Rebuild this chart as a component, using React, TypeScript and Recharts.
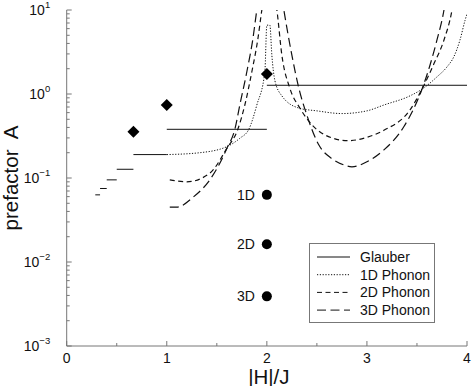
import React from 'react'
import { ComposedChart, Line, Scatter, XAxis, YAxis, Legend } from 'recharts'

// axes
const xTicks = [0, 0.5, 1, 1.5, 2, 2.5, 3, 3.5, 4]
const xLabels = [0, 1, 2, 3, 4]
const yMajor = [0.001, 0.01, 0.1, 1, 10]
const yExponent = ['\u22123', '\u22122', '\u22121', '0', '1']
const yMinorFactors = [2, 3, 4, 5, 6, 7, 8, 9]

// Glauber steps
const glauberFrom = [2 / 7, 1 / 3, 2 / 5, 1 / 2, 2 / 3, 1, 2]
const glauberTo = [1 / 3, 2 / 5, 1 / 2, 2 / 3, 1, 2, 4]
const glauberA = [0.063, 0.075, 0.095, 0.127, 0.19, 0.38, 1.27]

// 1D phonon (dotted)
const oneDX = [1.0, 1.33, 1.6, 1.73, 1.82, 1.9, 1.98, 2.0, 2.03, 2.05, 2.08, 2.15, 2.32, 2.5, 2.75, 3.0, 3.17, 3.43, 3.55, 3.7, 3.8, 3.87, 3.93, 3.98, 4.0]
const oneDA = [0.19, 0.2, 0.236, 0.297, 0.38, 0.74, 1.84, 6.6, 6.6, 2.9, 1.45, 0.95, 0.68, 0.63, 0.585, 0.63, 0.74, 0.95, 1.14, 1.6, 2.1, 2.8, 4.4, 7.5, 9]

// 2D phonon (short dash)
const twoDLeftX = [1.03, 1.2, 1.43, 1.6, 1.71, 1.78, 1.85, 1.91, 1.95, 1.97]
const twoDLeftA = [0.095, 0.09, 0.114, 0.225, 0.38, 0.74, 1.84, 4.5, 10, 14]
const twoDRightX = [2.08, 2.1, 2.15, 2.23, 2.33, 2.45, 2.65, 2.81, 3.0, 3.17, 3.43, 3.55, 3.67, 3.77, 3.85, 3.87]
const twoDRightA = [14, 10, 2.9, 1.17, 0.68, 0.43, 0.3, 0.278, 0.305, 0.37, 0.645, 1.14, 2.3, 4.4, 10, 14]

// 3D phonon (long dash)
const threeDLeftX = [1.03, 1.1, 1.27, 1.43, 1.53, 1.6, 1.68, 1.73, 1.8, 1.86, 1.9, 1.92]
const threeDLeftA = [0.045, 0.045, 0.06, 0.095, 0.15, 0.225, 0.38, 0.74, 1.84, 4.5, 10, 14]
const threeDRightX = [2.15, 2.17, 2.25, 2.32, 2.4, 2.52, 2.65, 2.77, 2.85, 3.0, 3.17, 3.37, 3.55, 3.63, 3.7, 3.77, 3.79]
const threeDRightA = [14, 10, 2.9, 1.17, 0.56, 0.247, 0.17, 0.143, 0.136, 0.156, 0.216, 0.41, 1.14, 2.2, 4.4, 10, 14]

// simulation points
const diamondX = [2 / 3, 1, 2]
const diamondA = [0.356, 0.74, 1.73]
const dimLabels = ['1D', '2D', '3D']
const dimX = [2, 2, 2]
const dimA = [0.063, 0.0163, 0.0039]

const legendNames = ['Glauber', '1D Phonon', '2D Phonon', '3D Phonon']

const FONT = '"Liberation Sans", Arial, Helvetica, sans-serif'
const INK = '#111'
const AXIS = '#777'
const dashes = ['', '1.2 1.6', '5 3.5', '9 4.5']

const yMinor = yMajor.slice(0, -1).flatMap((m) => yMinorFactors.map((f) => f * m))
const yTicks = [...yMajor, ...yMinor].sort((a, b) => a - b)

const toPoints = (xs: number[], as: number[]) => xs.map((x, i) => ({ x, a: as[i] }))

const glauberData = glauberFrom.flatMap((x0, i) => [
  { x: x0, a: glauberA[i] },
  { x: glauberTo[i], a: glauberA[i] },
  { x: glauberTo[i], a: null }
])

const oneD = toPoints(oneDX, oneDA)
const twoDLeft = toPoints(twoDLeftX, twoDLeftA)
const twoDRight = toPoints(twoDRightX, twoDRightA)
const threeDLeft = toPoints(threeDLeftX, threeDLeftA)
const threeDRight = toPoints(threeDRightX, threeDRightA)
const diamonds = toPoints(diamondX, diamondA)
const dims = dimX.map((x, i) => ({ x, a: dimA[i], label: dimLabels[i] }))

const isMajor = (v: number) => yMajor.some((m) => Math.abs(m - v) / m < 1e-6)

const LeftTick = ({ x, y, payload }: any) => {
  const idx = yMajor.findIndex((m) => Math.abs(m - payload.value) / m < 1e-6)
  const major = idx >= 0
  return (
    <g>
      <line x1={x} x2={x + (major ? 5 : 3)} y1={y} y2={y} stroke={AXIS} />
      {major && (
        <text x={x - 16.5} y={y + 5} textAnchor="end" fontFamily={FONT} fontSize={14} fill={INK}>
          <tspan>10</tspan>
          <tspan dy={-7} fontSize={9.5}>{yExponent[idx]}</tspan>
        </text>
      )}
    </g>
  )
}

const RightTick = ({ x, y, payload }: any) => (
  <line x1={x} x2={x - (isMajor(payload.value) ? 5 : 3)} y1={y} y2={y} stroke={AXIS} />
)

const BottomTick = ({ x, y, payload }: any) => {
  const major = xLabels.includes(payload.value)
  return (
    <g>
      <line x1={x} x2={x} y1={y} y2={y - (major ? 5 : 3)} stroke={AXIS} />
      {major && (
        <text x={x} y={y + 16.5} textAnchor="middle" fontFamily={FONT} fontSize={14} fill={INK}>
          {payload.value}
        </text>
      )}
    </g>
  )
}

const TopTick = ({ x, y }: any) => <line x1={x} x2={x} y1={y} y2={y + 3} stroke={AXIS} />

const YTitle = ({ viewBox }: any) => {
  const cx = viewBox.x + 11.5
  const cy = viewBox.y + viewBox.height / 2
  return (
    <text
      x={cx}
      y={cy}
      transform={`rotate(-90 ${cx} ${cy})`}
      textAnchor="middle"
      fontFamily={FONT}
      fontSize={20.5}
      fill={INK}
      style={{ whiteSpace: 'pre' }}
    >
      {'prefactor  A'}
    </text>
  )
}

const XTitle = ({ viewBox }: any) => (
  <text
    x={viewBox.x + viewBox.width / 2 + 2}
    y={viewBox.y + 37.5}
    textAnchor="middle"
    fontFamily={FONT}
    fontSize={20.5}
    fill={INK}
  >
    |H|/J
  </text>
)

const Diamond = ({ cx, cy }: any) => (
  <polygon points={`${cx},${cy - 6} ${cx + 6},${cy} ${cx},${cy + 6} ${cx - 6},${cy}`} fill="#000" />
)

const DimDot = ({ cx, cy, payload }: any) => (
  <g>
    <circle cx={cx} cy={cy} r={5} fill="#000" />
    <text x={cx - 12} y={cy + 5} textAnchor="end" fontFamily={FONT} fontSize={14} fill={INK}>
      {payload.label}
    </text>
  </g>
)

const LegendBox = () => (
  <div style={{ width: 126, height: 80, border: `1px solid ${AXIS}`, background: '#fff', boxSizing: 'border-box' }}>
    <svg width={124} height={78}>
      {legendNames.map((name, i) => {
        const cy = 13 + i * 17.7
        return (
          <g key={name}>
            <line x1={7} x2={40} y1={cy} y2={cy} stroke={INK} strokeWidth={1} strokeDasharray={dashes[i]} />
            <text x={50} y={cy + 5} fontFamily={FONT} fontSize={14} fill={INK}>
              {name}
            </text>
          </g>
        )
      })}
    </svg>
  </div>
)

export default function App() {
  return (
    <div style={{ position: 'absolute', left: 0, top: 0, background: '#fff' }}>
      <ComposedChart width={474} height={386} margin={{ top: 10, right: 7, bottom: 0, left: 6.7 }}>
        <XAxis
          dataKey="x"
          type="number"
          domain={[0, 4]}
          allowDataOverflow
          ticks={xTicks}
          interval={0}
          height={40}
          tickSize={0}
          tickMargin={0}
          tickLine={false}
          axisLine={{ stroke: AXIS }}
          tick={<BottomTick />}
          label={{ content: <XTitle /> }}
        />
        <XAxis
          xAxisId="top"
          orientation="top"
          dataKey="x"
          type="number"
          domain={[0, 4]}
          allowDataOverflow
          ticks={xTicks}
          interval={0}
          height={0}
          tickSize={0}
          tickMargin={0}
          tickLine={false}
          axisLine={{ stroke: AXIS }}
          tick={<TopTick />}
        />
        <YAxis
          type="number"
          scale="log"
          domain={[0.001, 10]}
          allowDataOverflow
          ticks={yTicks}
          interval={0}
          width={60}
          tickSize={0}
          tickMargin={0}
          tickLine={false}
          axisLine={{ stroke: AXIS }}
          tick={<LeftTick />}
          label={{ content: <YTitle /> }}
        />
        <YAxis
          yAxisId="right"
          orientation="right"
          type="number"
          scale="log"
          domain={[0.001, 10]}
          allowDataOverflow
          ticks={yTicks}
          interval={0}
          width={0}
          tickSize={0}
          tickMargin={0}
          tickLine={false}
          axisLine={{ stroke: AXIS }}
          tick={<RightTick />}
        />
        <Legend
          content={<LegendBox />}
          layout="vertical"
          align="center"
          verticalAlign="middle"
          width={126}
          height={80}
          wrapperStyle={{ left: 309, top: 243, width: 126, height: 80 }}
        />

        <Line data={glauberData} dataKey="a" type="linear" stroke={INK} strokeWidth={1} dot={false} connectNulls={false} isAnimationActive={false} />

        <Line data={oneD} dataKey="a" type="monotone" stroke={INK} strokeWidth={1} strokeDasharray={dashes[1]} dot={false} isAnimationActive={false} />

        <Line data={twoDLeft} dataKey="a" type="monotone" stroke={INK} strokeWidth={1.2} strokeDasharray={dashes[2]} dot={false} isAnimationActive={false} />
        <Line data={twoDRight} dataKey="a" type="monotone" stroke={INK} strokeWidth={1.2} strokeDasharray={dashes[2]} dot={false} isAnimationActive={false} />

        <Line data={threeDLeft} dataKey="a" type="monotone" stroke={INK} strokeWidth={1.2} strokeDasharray={dashes[3]} dot={false} isAnimationActive={false} />
        <Line data={threeDRight} dataKey="a" type="monotone" stroke={INK} strokeWidth={1.2} strokeDasharray={dashes[3]} dot={false} isAnimationActive={false} />

        <Scatter data={diamonds} dataKey="a" shape={<Diamond />} isAnimationActive={false} />
        <Scatter data={dims} dataKey="a" shape={<DimDot />} isAnimationActive={false} />
      </ComposedChart>
    </div>
  )
}
